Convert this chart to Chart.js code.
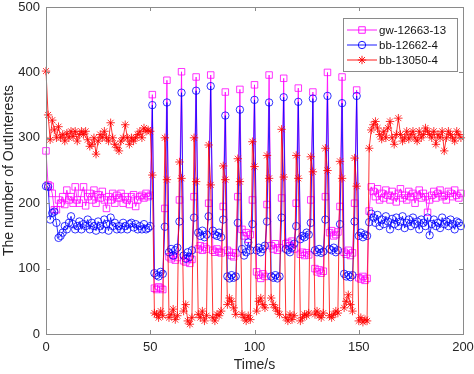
<!DOCTYPE html>
<html>
<head>
<meta charset="utf-8">
<script src="https://cdn.jsdelivr.net/npm/chart.js@4.4.1/dist/chart.umd.min.js"></script>
<style>
  html, body { margin: 0; padding: 0; background: #fff; }
  #wrap { width: 474px; height: 374px; }
</style>
</head>
<body>
<div id="wrap"><canvas id="c" width="474" height="374"></canvas></div>
<script>
const xTicks = [0, 50, 100, 150, 200];
const yTicks = [0, 100, 200, 300, 400, 500];
const seriesNames = ['gw-12663-13', 'bb-12662-4', 'bb-13050-4'];

// t = 0..50 (steady start)
const gwLead = [280,228,226,215,190,190,205,200,210,198, 220,205,210,200,225,205,200,215,225,196,
  210,215,205,220,200,213,208,218,205,192, 210,205,215,200,212,208,215,200,210,205,
  198,210,213,195,205,210,212,208,215,210, 212];
const bbLead = [226,225,175,185,187,170,147,150,155,165, 160,170,180,168,160,165,172,160,168,165,
  175,160,170,165,158,172,165,160,175,168, 158,178,165,170,160,165,160,170,165,160,
  168,170,163,168,160,165,160,168,160,162, 165];
const rdLead = [402,335,297,327,312,300,317,300,305,295, 307,300,310,302,310,295,305,310,305,310,
  297,287,290,300,275,295,305,300,310,300, 295,323,300,290,285,280,295,300,320,300,
  290,300,295,300,305,310,300,315,310,312, 310];

// t = 51..154 (bursts)
const gwMid = [
  366,70,68,72,70,68,192,
  388,118,115,120,113,117,205,
  401,112,110,116,108,114,210,
  393,130,135,128,133,130,200,
  396,128,125,130,126,124,195,
  370,128,125,120,118,124,210,
  374,160,150,155,145,152,205,
  381,95,90,85,92,88,198,
  396,135,130,138,128,132,208,
  391,138,140,135,142,130,200,
  376,122,125,120,124,121,205,
  370,100,95,98,93,96,210,
  400,155,158,150,152,156,195,
  393,125,122,128,120,124,200,
  373,86,84,88,82,85];
const bbMid = [
  350,93,90,88,95,92,164,
  354,125,130,120,128,132,172,
  369,120,115,125,118,128,178,
  372,155,150,158,148,152,180,
  379,158,152,150,155,148,175,
  334,88,85,90,86,88,170,
  343,130,120,125,140,128,168,
  358,128,132,125,130,135,172,
  354,88,86,90,85,88,178,
  362,130,128,125,132,138,165,
  355,145,150,148,155,152,170,
  360,128,125,130,124,126,175,
  364,130,128,132,125,128,168,
  353,92,88,90,87,90,172,
  364,150,155,148,152,150];
const rdMid = [
  243,32,30,25,35,28,300,
  236,25,30,38,22,28,263,
  238,35,45,20,15,25,300,
  233,30,25,35,20,28,289,
  228,25,20,30,28,35,257,
  236,45,55,50,40,30,268,
  233,30,25,20,28,22,294,
  256,35,50,55,45,40,273,
  238,55,45,40,35,30,313,
  240,25,20,30,22,28,273,
  238,20,25,30,28,32,271,
  248,30,35,28,25,32,284,
  250,28,25,30,35,32,264,
  238,40,50,60,45,35,269,
  226,20,25,18,22,20];

// t = 155..199 (steady end)
const gwTail = [188,225,218,210,222,205,215,208,220,212, 205,218,210,202,215,222,208,212,205,218,
  210,215,200,212,220,208,215,210,186,205, 212,218,208,215,220,210,212,205,218,215,
  210,220,212,208,215];
const bbTail = [171,184,178,170,182,165,175,168,180,172, 160,176,168,178,165,172,180,162,170,175,
  165,178,168,172,160,175,170,165,178,151, 168,175,165,170,162,178,168,172,165,175,
  168,160,172,170,165];
const rdTail = [284,312,320,325,315,305,298,310,300,315, 325,300,290,305,330,305,295,300,310,298,
  305,310,300,295,310,300,305,315,310,305, 300,310,290,305,300,310,280,300,310,305,
  300,295,310,305,300];

const gw = gwLead.concat(gwMid, gwTail);
const bb = bbLead.concat(bbMid, bbTail);
const rd = rdLead.concat(rdMid, rdTail);
const times = gw.map((_, i) => i);
const pts = arr => arr.map((v, i) => ({ x: times[i], y: v }));

const FONT = 'Arial, "Liberation Sans", Helvetica, sans-serif';
const styles = [
  { color: '#ff00ff', marker: 'rect', radius: 4.6 },
  { color: '#0000ff', marker: 'circle', radius: 3.7 },
  { color: '#ff0000', marker: 'star', radius: 4.2 }
];

function marker(ctx, kind, x, y, r) {
  ctx.beginPath();
  if (kind === 'rect') {
    const s = r * Math.SQRT1_2;
    ctx.rect(x - s, y - s, 2 * s, 2 * s);
  } else if (kind === 'circle') {
    ctx.arc(x, y, r, 0, Math.PI * 2);
  } else {
    ctx.moveTo(x - r, y); ctx.lineTo(x + r, y);
    ctx.moveTo(x, y - r); ctx.lineTo(x, y + r);
    const d = r * Math.SQRT1_2;
    ctx.moveTo(x - d, y - d); ctx.lineTo(x + d, y + d);
    ctx.moveTo(x - d, y + d); ctx.lineTo(x + d, y - d);
  }
  ctx.stroke();
}

const framePlugin = {
  id: 'frame',
  afterDatasetsDraw(chart) {
    const { ctx, chartArea: a, scales: { x, y } } = chart;
    ctx.save();
    ctx.strokeStyle = '#8a8a8a';
    ctx.lineWidth = 1;
    ctx.strokeRect(Math.round(a.left) + 0.5, Math.round(a.top) + 0.5,
      Math.round(a.right - a.left), Math.round(a.bottom - a.top));
    ctx.beginPath();
    xTicks.forEach(v => {
      const px = Math.round(x.getPixelForValue(v)) + 0.5;
      ctx.moveTo(px, a.bottom); ctx.lineTo(px, a.bottom - 4);
      ctx.moveTo(px, a.top); ctx.lineTo(px, a.top + 4);
    });
    yTicks.forEach(v => {
      const py = Math.round(y.getPixelForValue(v)) + 0.5;
      ctx.moveTo(a.left, py); ctx.lineTo(a.left + 4, py);
      ctx.moveTo(a.right, py); ctx.lineTo(a.right - 4, py);
    });
    ctx.stroke();

    // legend box, top right inside the axes
    const bx = a.right - 120, by = a.top + 11, bw = 114, bh = 53;
    ctx.fillStyle = '#fff';
    ctx.fillRect(bx, by, bw, bh);
    ctx.strokeStyle = '#8a8a8a';
    ctx.strokeRect(bx + 0.5, by + 0.5, bw, bh);
    ctx.font = '11.5px ' + FONT;
    ctx.textBaseline = 'middle';
    seriesNames.forEach((name, i) => {
      const ry = by + 12 + i * 15;
      const st = styles[i];
      ctx.strokeStyle = st.color;
      ctx.lineWidth = 0.9;
      ctx.beginPath();
      ctx.moveTo(bx + 4, ry); ctx.lineTo(bx + 34, ry);
      ctx.stroke();
      marker(ctx, st.marker, bx + 19, ry, st.radius);
      ctx.fillStyle = '#111';
      ctx.fillText(name, bx + 36, ry + 0.5);
    });
    ctx.restore();
  }
};

function ds(i, data) {
  const st = styles[i];
  return {
    label: seriesNames[i],
    data: pts(data),
    borderColor: st.color,
    borderWidth: 0.8,
    pointStyle: st.marker,
    pointRadius: st.radius,
    pointBorderColor: st.color,
    pointBackgroundColor: 'rgba(0,0,0,0)',
    pointBorderWidth: 0.8,
    tension: 0,
    clip: false,
    order: 2 - i
  };
}

new Chart(document.getElementById('c'), {
  type: 'line',
  data: { datasets: [ds(0, gw), ds(1, bb), ds(2, rd)] },
  options: {
    responsive: false,
    animation: false,
    layout: { padding: { top: 7, right: 11, left: 0, bottom: 0 } },
    plugins: { legend: { display: false }, tooltip: { enabled: false } },
    scales: {
      x: {
        type: 'linear', min: 0, max: 200,
        afterBuildTicks: s => { s.ticks = xTicks.map(v => ({ value: v })); },
        ticks: { padding: 6, color: '#262626', font: { family: FONT, size: 13 }, maxRotation: 0 },
        grid: { display: false, drawTicks: false },
        border: { display: false },
        title: { display: true, text: 'Time/s', color: '#262626', font: { family: FONT, size: 14 }, padding: { top: 0, bottom: 0 } },
        afterFit: s => { s.height = 40; s.paddingLeft = 0; s.paddingRight = 0; }
      },
      y: {
        type: 'linear', min: 0, max: 500,
        afterBuildTicks: s => { s.ticks = yTicks.map(v => ({ value: v })); },
        ticks: { padding: 6, color: '#262626', font: { family: FONT, size: 13 } },
        grid: { display: false, drawTicks: false },
        border: { display: false },
        title: { display: true, text: 'The number of OutInterests', color: '#262626', font: { family: FONT, size: 14 }, padding: { top: 1, bottom: 0 } },
        afterFit: s => { s.width = 46; s.paddingTop = 0; s.paddingBottom = 0; }
      }
    }
  },
  plugins: [framePlugin]
});
</script>
</body>
</html>
